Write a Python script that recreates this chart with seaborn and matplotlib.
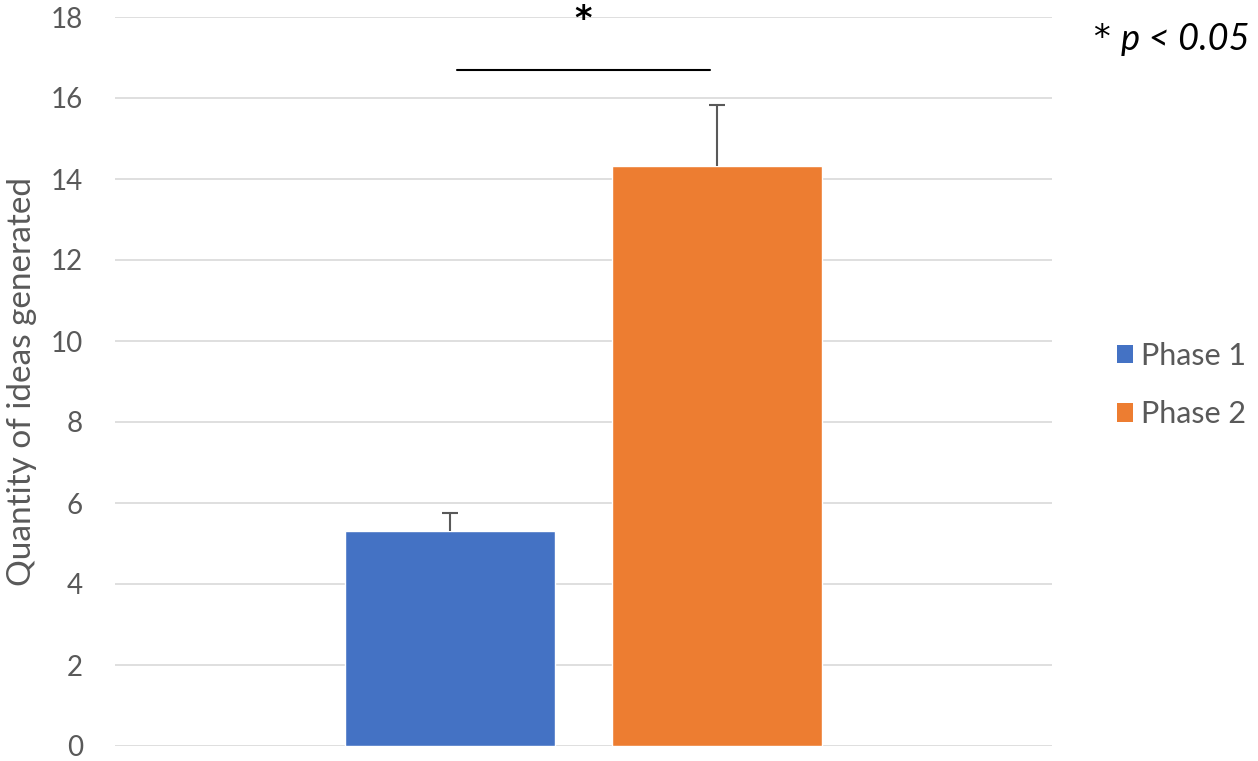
"""
Idea generation by phase - bar chart with upper error bars and a
significance bracket. Saves out.png.
"""

import numpy as np
import pandas as pd
import matplotlib
matplotlib.use("Agg")
import matplotlib.pyplot as plt
from matplotlib.patches import Patch
import seaborn as sns

# ---- data ----
phases = ["Phase 1", "Phase 2"]
mean_ideas = [5.31, 14.32]
upper_err = [0.44, 1.50]
bar_colors = ["#4472C4", "#ED7D31"]
y_ticks = [0, 2, 4, 6, 8, 10, 12, 14, 16, 18]
sig_level = 16.68   # height of the significance line
star_level = 17.95  # height of the asterisk above it
p_note = "p < 0.05"

GRAY = "#595959"

sns.set_theme(style="white")
plt.rcParams["font.family"] = ["Lato", "DejaVu Sans"]

df = pd.DataFrame({"group": ["all"] * len(phases), "phase": phases, "ideas": mean_ideas})

fig = plt.figure(figsize=(12.58, 7.61), dpi=100)
ax = fig.add_axes([115 / 1258, 15 / 761, 937 / 1258, 729 / 761])

sns.barplot(data=df, x="group", y="ideas", hue="phase", palette=bar_colors,
            width=0.8, gap=0.213, saturation=1, errorbar=None, legend=False, ax=ax)

# bar centres as placed by seaborn
centers = [p.get_x() + p.get_width() / 2 for p in ax.patches[:len(phases)]]

# only the upper half of the error bar is shown
eb = ax.errorbar(centers, mean_ideas, yerr=[np.zeros(len(phases)), upper_err],
                 fmt="none", ecolor=GRAY, elinewidth=1.5, capsize=6, capthick=1.5, zorder=1)
eb[1][0].set_visible(False)  # drop the cap sitting on the bar top

# significance bracket
ax.plot([centers[0] + 0.01, centers[1] - 0.01], [sig_level, sig_level],
        color="black", lw=1.5, clip_on=False)
ax.text(np.mean(centers), star_level, "*", ha="center", va="center",
        fontsize=24, fontweight="bold", family="DejaVu Sans", color="black", clip_on=False)

ax.set_xlim(-0.702, 0.702)
ax.set_ylim(0, 18)
ax.set_yticks(y_ticks)
ax.set_xticks([])
ax.set_xlabel("")
ax.set_ylabel("Quantity of ideas generated", fontsize=24, color=GRAY, labelpad=10)
ax.tick_params(axis="y", length=0, pad=23, labelsize=20, labelcolor=GRAY)
ax.yaxis.grid(True, color="#D9D9D9", lw=1.2)
ax.set_axisbelow(True)
for s in ax.spines.values():
    s.set_visible(False)

# legend on the right
handles = [Patch(facecolor=c, edgecolor="none") for c in bar_colors]
fig.legend(handles, phases, loc="center left", bbox_to_anchor=(1089 / 1258, 1 - 385 / 761),
           frameon=False, fontsize=22, handlelength=0.55, handleheight=0.55,
           handletextpad=0.25, labelspacing=1.0, labelcolor=GRAY)

# p-value note, top right
fig.text(1093 / 1258, 1 - 38 / 761, "*", ha="left", va="center", fontsize=24,
         family="DejaVu Sans", color="black")
fig.text(1250 / 1258, 1 - 40 / 761, p_note, ha="right", va="center", fontsize=26,
         style="italic", color="black")

fig.savefig("out.png", dpi=100)
plt.close(fig)
